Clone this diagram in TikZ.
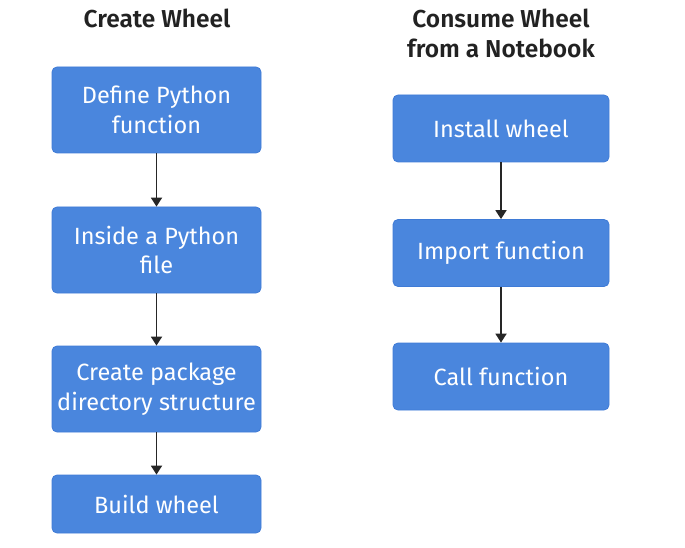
\documentclass[tikz,border=0pt]{standalone}
\usepackage{fontspec}
\setmainfont{Fira Sans}
\newfontfamily\medfont{Fira Sans}[UprightFont={* Medium}, BoldFont={* SemiBold}]
\usetikzlibrary{arrows.meta}
\definecolor{boxblue}{HTML}{4A86DD}
\definecolor{boxedge}{HTML}{3F7BD6}
\definecolor{titlegray}{HTML}{222222}
\definecolor{arrowgray}{HTML}{262626}
\begin{document}
\begin{tikzpicture}[x=1pt,y=-1pt,
  stepbox/.style={draw=boxedge, line width=0.8pt, fill=boxblue, rounded corners=5pt,
    text=white, align=center, font=\fontsize{23.5}{29.5}\selectfont, inner sep=0pt},
  titletext/.style={text=titlegray, align=center, font=\medfont\fontsize{24.5}{30}\selectfont\bfseries},
  flow/.style={draw=arrowgray, line width=1.8pt, -{Triangle[length=9pt,width=11pt]}}]
\useasboundingbox (0,0) rectangle (685,548);
% left column
\node[titletext] (t1) at (157,18) {Create Wheel};
\node[stepbox, minimum width=209pt, minimum height=86pt] (a1) at (156.5,110) {Define Python\\function};
\node[stepbox, minimum width=209pt, minimum height=86pt] (a2) at (156.5,250) {Inside a Python\\file};
\node[stepbox, minimum width=209pt, minimum height=86pt] (a3) at (156.5,389) {Create package\\directory structure};
\node[stepbox, minimum width=209pt, minimum height=58pt] (a4) at (156.5,504) {Build wheel};
% right column
\node[titletext] (t2) at (501,33) {Consume Wheel\\from a Notebook};
\node[stepbox, minimum width=216pt, minimum height=67pt] (b1) at (501,128.5) {Install wheel};
\node[stepbox, minimum width=216pt, minimum height=67pt] (b2) at (501,253) {Import function};
\node[stepbox, minimum width=216pt, minimum height=67pt] (b3) at (501,376.5) {Call function};
% connectors
\draw[flow] (a1) -- (a2);
\draw[flow] (a2) -- (a3);
\draw[flow] (a3) -- (a4);
\draw[flow] (b1) -- (b2);
\draw[flow] (b2) -- (b3);
\end{tikzpicture}
\end{document}
